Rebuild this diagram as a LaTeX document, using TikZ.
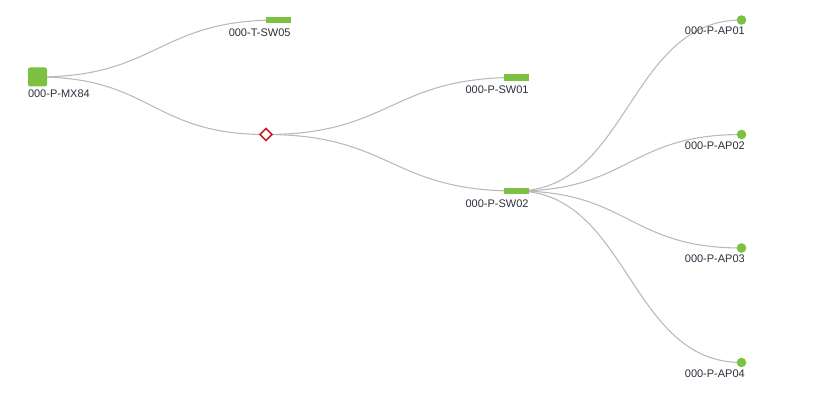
\documentclass[tikz,border=0pt]{standalone}
\usepackage{fontspec}
\setmainfont{Liberation Sans}
\usetikzlibrary{shapes.geometric,backgrounds,calc}
\definecolor{nodegreen}{RGB}{124,193,66}
\definecolor{linkgray}{RGB}{185,185,185}
\definecolor{hubred}{RGB}{190,35,45}
\definecolor{labelink}{RGB}{45,45,60}

% horizontal tree link between two nodes
\newcommand{\treelink}[2]{%
  \draw [treeedge] (#1.center) let \p1=(#1.center), \p2=(#2.center) in
    .. controls ({(\x1+\x2)/2},\y1) and ({(\x1+\x2)/2},\y2) .. (\x2,\y2);}

\begin{document}
\begin{tikzpicture}[x=0.75pt,y=-0.75pt,
  mxbox/.style={fill=nodegreen, rounded corners=1.5pt, minimum size=14.25pt, inner sep=0pt},
  swbar/.style={fill=nodegreen, minimum width=18.75pt, minimum height=5pt, inner sep=0pt},
  apdot/.style={circle, fill=nodegreen, minimum size=7.2pt, inner sep=0pt},
  hub/.style={diamond, draw=hubred, fill=white, line width=1.1pt, minimum size=9.5pt, inner sep=0pt},
  treeedge/.style={draw=linkgray, line width=0.8pt},
  lbl/.style={inner sep=0pt, text=labelink, font=\fontsize{8.25}{10}\selectfont},
  rootlabel/.style={lbl, anchor=north west, yshift=-2.3pt},
  swlabel/.style={lbl, anchor=north east, yshift=-3.5pt},
  aplabel/.style={lbl, anchor=north east, yshift=-2.3pt}]
\useasboundingbox (0,0) rectangle (814,402);

% nodes
\node [mxbox, label={[rootlabel]south west:000-P-MX84}] (mx84) at (37.5,77) {};
\node [hub] (hub) at (266,134.5) {};
\node [swbar, label={[swlabel]south east:000-T-SW05}] (sw05) at (278,20) {};
\node [swbar, label={[swlabel]south east:000-P-SW01}] (sw01) at (516,77.5) {};
\node [swbar, label={[swlabel]south east:000-P-SW02}] (sw02) at (516,191) {};
\node [apdot, label={[aplabel]south east:000-P-AP01}] (ap01) at (741.5,20) {};
\node [apdot, label={[aplabel]south east:000-P-AP02}] (ap02) at (741.5,134.5) {};
\node [apdot, label={[aplabel]south east:000-P-AP03}] (ap03) at (741.5,248) {};
\node [apdot, label={[aplabel]south east:000-P-AP04}] (ap04) at (741.5,362.5) {};

% links
\begin{scope}[on background layer]
\treelink{mx84}{sw05}
\treelink{mx84}{hub}
\treelink{hub}{sw01}
\treelink{hub}{sw02}
\treelink{sw02}{ap01}
\treelink{sw02}{ap02}
\treelink{sw02}{ap03}
\treelink{sw02}{ap04}
\end{scope}
\end{tikzpicture}
\end{document}
